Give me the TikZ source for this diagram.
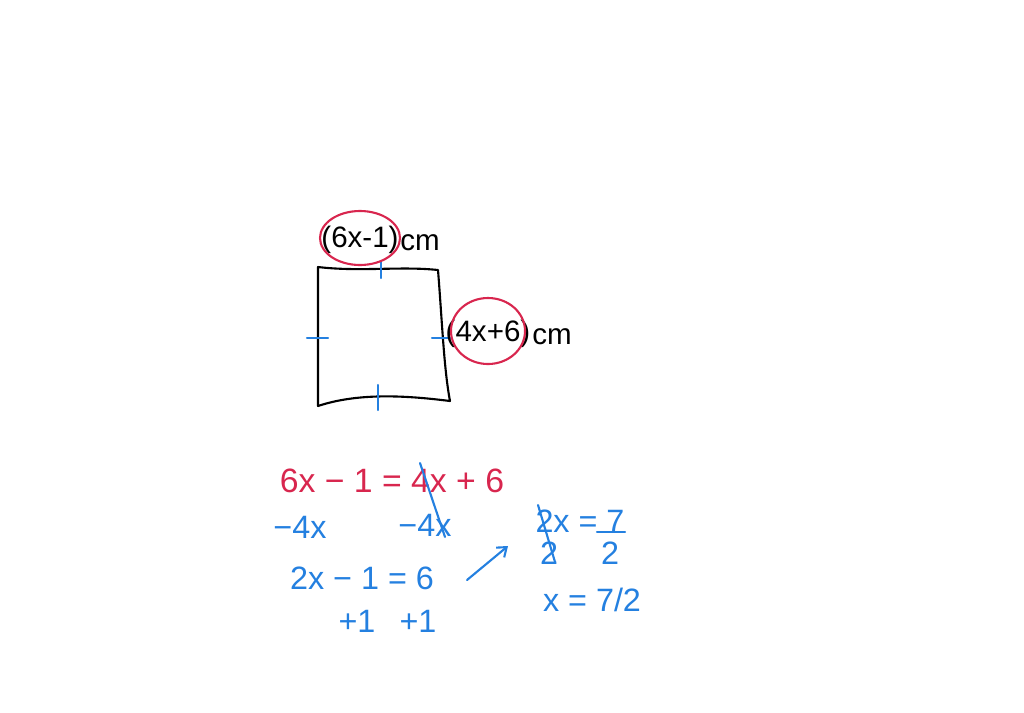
\documentclass[tikz,border=0pt]{standalone}
\usepackage{fontspec}
\setmainfont{Liberation Sans}
\usetikzlibrary{arrows.meta,shapes.geometric}
\definecolor{inkred}{RGB}{216,38,78}
\definecolor{inkblue}{RGB}{36,128,224}
\begin{document}
\begin{tikzpicture}[x=0.025cm, y=-0.025cm]

% Define styles
\tikzstyle{ink} = [line width=1.5pt, line cap=round, line join=round]
\tikzstyle{side} = [font=\fontsize{21}{24}\selectfont, inner sep=0pt]
\tikzstyle{redeq} = [font=\fontsize{24}{28}\selectfont, text=inkred, inner sep=0pt]
\tikzstyle{blueeq} = [font=\fontsize{23}{26}\selectfont, text=inkblue, inner sep=0pt]
\tikzstyle{loop} = [ellipse, draw=inkred, ink, inner sep=0pt]

\useasboundingbox (0,0) rectangle (1024,712);

% The square
\coordinate (tl) at (318,267);
\coordinate (tr) at (438,270);
\coordinate (br) at (450,401);
\coordinate (bl) at (318,406);
\draw [ink, black] (tl) .. controls (360,272) and (400,266) .. (tr)
  .. controls (442,320) and (444,370) .. (br)
  .. controls (410,396) and (360,392) .. (bl) -- cycle;

% Equal-side ticks
\draw [ink, inkblue] (381,262) -- (381,278);
\draw [ink, inkblue] (307,338) -- (328,338);
\draw [ink, inkblue] (432,338) -- (450,338);
\draw [ink, inkblue] (378,385) -- (378,410);

% Side labels
\node [side] (top) at (360,240) {(6x-1)};
\node [side, anchor=west] (topcm) at (400,243) {cm};
\node [loop, minimum width=2cm, minimum height=1.35cm] (topring) at (360,238) {};
\node [side] (right) at (488,334) {(4x+6)};
\node [side, anchor=west] (rightcm) at (532,337) {cm};
\node [loop, minimum width=1.85cm, minimum height=1.65cm] (rightring) at (488,331) {};

% Working on the left
\node [redeq] (eqa) at (392,481) {6x − 1 = 4x + 6};
\node [blueeq] (suba) at (300,527) {−4x};
\node [blueeq] (subb) at (425,525) {−4x};
\node [blueeq] (eqb) at (362,578) {2x − 1 = 6};
\node [blueeq] (adda) at (357,621) {+1};
\node [blueeq] (addb) at (418,621) {+1};
\coordinate (cuta) at (420,463);
\coordinate (cutb) at (445,537);
\draw [ink, inkblue] (cuta) -- (cutb);

% Arrow to the right
\coordinate (arra) at (467,580);
\coordinate (arrb) at (508,546);
\draw [ink, inkblue, -{Straight Barb[length=6pt,width=9pt]}] (arra) -- (arrb);

% Working on the right
\node [blueeq] (eqc) at (580,521) {2x = 7};
\node [blueeq] (dena) at (549,553) {2};
\node [blueeq] (denb) at (610,553) {2};
\draw [ink, inkblue] (597,532) -- (625,532);
\coordinate (cutc) at (538,505);
\coordinate (cutd) at (555,562);
\draw [ink, inkblue] (cutc) -- (cutd);
\node [blueeq] (eqd) at (592,600) {x = 7/2};

\end{tikzpicture}
\end{document}
